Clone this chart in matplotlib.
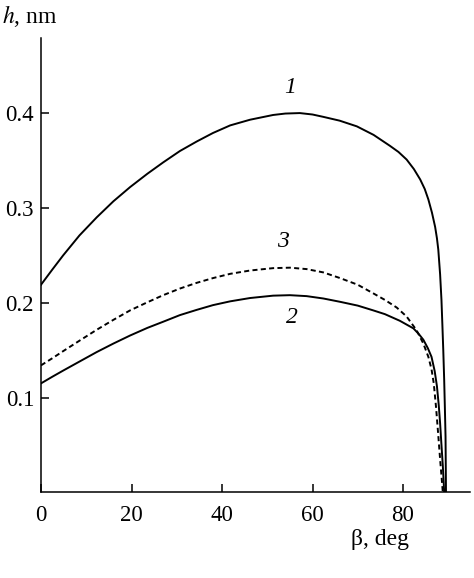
import matplotlib
matplotlib.use("Agg")
import matplotlib.pyplot as plt

plt.rcParams["font.family"] = ["Liberation Serif", "DejaVu Serif"]
plt.rcParams["mathtext.fontset"] = "stix"

# curve 1 (solid)
beta1 = [0, 2.5, 4.9, 8.5, 12.3, 16.0, 19.7, 23.5, 27.0, 30.7, 34.4, 38.0, 41.8,
         46.2, 51.3, 54.0, 57.2, 60.0, 62.4, 66.0, 69.8, 73.5, 77.1, 79.0, 80.8,
         82.4, 83.8, 84.8, 85.6, 86.4, 87.1, 87.5, 87.8, 88.2, 88.5, 88.7, 88.9,
         89.1, 89.25, 89.4, 89.5]
h1 = [0.219, 0.235, 0.250, 0.271, 0.290, 0.307, 0.322, 0.336, 0.348, 0.360, 0.370,
      0.379, 0.387, 0.393, 0.398, 0.3995, 0.400, 0.3985, 0.396, 0.392, 0.386, 0.377,
      0.3655, 0.359, 0.351, 0.341, 0.330, 0.320, 0.309, 0.295, 0.280, 0.268, 0.256,
      0.230, 0.203, 0.177, 0.150, 0.119, 0.090, 0.059, 0.0]

# curve 2 (solid)
beta2 = [0, 2.5, 4.9, 8.5, 12.3, 16.0, 19.7, 23.5, 27.0, 30.7, 34.4, 38.0, 41.8,
         46.2, 51.3, 55.0, 58.7, 62.4, 66.1, 70.0, 73.4, 76.0, 79.3, 82.3, 83.5,
         84.5, 85.5, 86.3, 87.0, 87.5, 87.9, 88.2, 88.5, 88.8, 89.0, 89.1]
h2 = [0.115, 0.122, 0.1285, 0.138, 0.148, 0.157, 0.1655, 0.1735, 0.180, 0.187, 0.1925,
      0.1975, 0.2015, 0.205, 0.2075, 0.208, 0.207, 0.2045, 0.201, 0.197, 0.192, 0.188,
      0.181, 0.173, 0.167, 0.161, 0.152, 0.143, 0.128, 0.112, 0.092, 0.073, 0.050,
      0.028, 0.010, 0.0]

# curve 3 (dashed)
beta3 = [0, 2.5, 4.9, 8.5, 12.3, 16.0, 19.7, 23.5, 27.0, 30.7, 34.4, 38.0, 41.8,
         46.2, 51.3, 55.0, 58.7, 62.4, 66.1, 70.0, 73.4, 76.0, 78.6, 80.8, 83.0,
         84.5, 85.6, 86.3, 86.8, 87.3, 87.8, 88.2, 88.6, 88.8]
h3 = [0.134, 0.1415, 0.149, 0.160, 0.1715, 0.182, 0.192, 0.2005, 0.208, 0.215, 0.221,
      0.226, 0.2305, 0.234, 0.2365, 0.237, 0.2355, 0.232, 0.226, 0.219, 0.210, 0.203,
      0.195, 0.1855, 0.171, 0.157, 0.143, 0.130, 0.115, 0.090, 0.060, 0.035, 0.012, 0.0]

curve_labels = ["1", "2", "3"]
label_beta = [55.0, 55.4, 53.5]
label_h = [0.427, 0.184, 0.2645]

x_ticks = [0, 20, 40, 60, 80]
y_ticks = [0.1, 0.2, 0.3, 0.4]

fig = plt.figure(figsize=(4.74, 5.78), dpi=100)
ax = fig.add_axes([0.0865, 0.148, 0.905, 0.786])

ax.plot(beta1, h1, color="black", linewidth=1.4)
ax.plot(beta2, h2, color="black", linewidth=1.4)
ax.plot(beta3, h3, color="black", linewidth=1.4, linestyle=(0, (2.6, 1.7)))

for lab, bx, hy in zip(curve_labels, label_beta, label_h):
    ax.text(bx, hy, lab, fontsize=17, style="italic", ha="center", va="center")

ax.set_xlim(0, 94.8)
ax.set_ylim(0, 0.479)
ax.set_xticks(x_ticks)
ax.set_yticks(y_ticks)
ax.set_yticklabels([f"{v:.1f}" for v in y_ticks])

for side in ["top", "right"]:
    ax.spines[side].set_visible(False)
for side in ["left", "bottom"]:
    ax.spines[side].set_linewidth(1.1)

ax.tick_params(direction="in", length=6, width=1.1, labelsize=16.5)
ax.tick_params(axis="x", pad=9)
ax.tick_params(axis="y", pad=5)

fig.text(0.004, 0.972, r"$h$, nm", fontsize=17, ha="left", va="center")
fig.text(0.862, 0.066, "β, deg", fontsize=17, ha="right", va="center")

fig.savefig("out.png", dpi=100)
